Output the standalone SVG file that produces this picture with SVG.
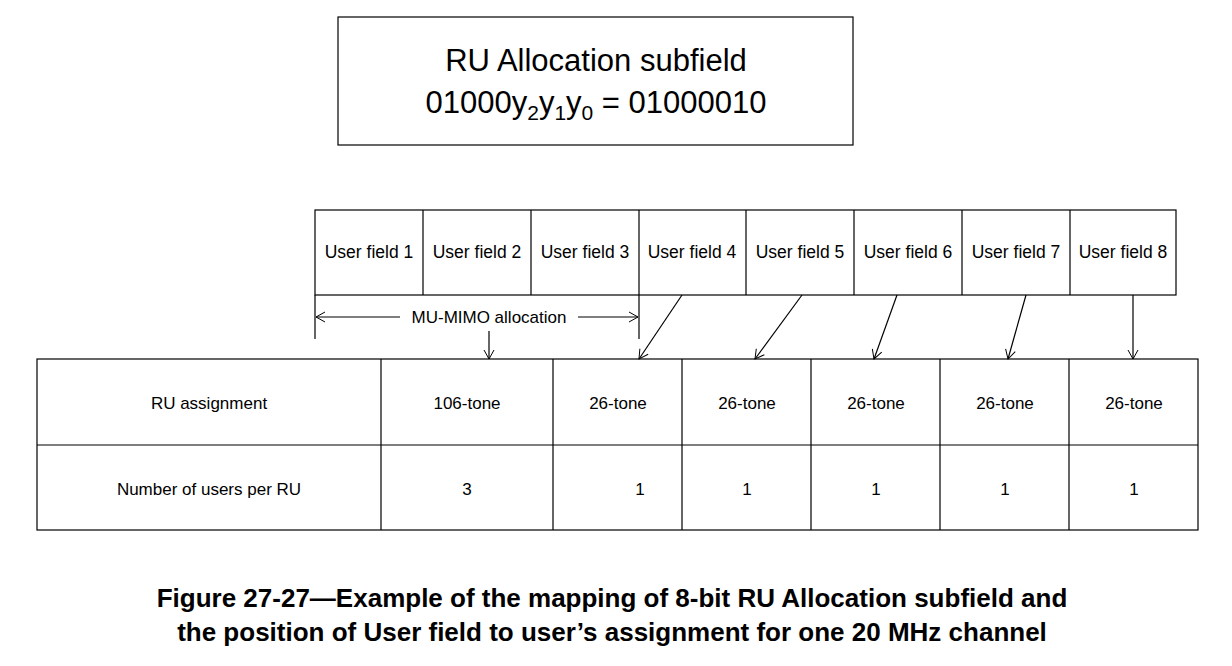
<svg xmlns="http://www.w3.org/2000/svg" width="1232" height="666" viewBox="0 0 1232 666">
<defs>
<marker id="ah" markerWidth="12" markerHeight="12" refX="10" refY="6" orient="auto" markerUnits="userSpaceOnUse"><path d="M1,1 L10,6 L1,11" fill="none" stroke="#000" stroke-width="1"/></marker>
</defs>
<style>
.b{fill:#fff;stroke:#000;stroke-width:1.2}
.l{stroke:#000;stroke-width:1.2;fill:none}
.t{font-family:"Liberation Sans",Arial,sans-serif;font-size:17px;text-anchor:middle;fill:#000}
.u{font-family:"Liberation Sans",Arial,sans-serif;font-size:17.5px;text-anchor:middle;fill:#000}
.h{font-family:"Liberation Sans",Arial,sans-serif;font-size:31px;text-anchor:middle;fill:#000}
.c{font-family:"Liberation Sans",Arial,sans-serif;font-size:26px;font-weight:bold;text-anchor:middle;fill:#000}
</style>
<rect width="1232" height="666" fill="#fff"/>
<g id="title"><rect class="b" x="338" y="17" width="515" height="128"/>
<text class="h" x="596" y="71">RU Allocation subfield</text>
<text class="h" x="596" y="113">01000y<tspan font-size="21" dy="7">2</tspan><tspan dy="-7">y</tspan><tspan font-size="21" dy="7">1</tspan><tspan dy="-7">y</tspan><tspan font-size="21" dy="7">0</tspan><tspan dy="-7"> = 01000010</tspan></text></g>
<g id="userfields">
<rect class="b" x="315" y="210" width="861" height="85"/>
<path class="l" d="M423,210V295M531,210V295M639,210V295M746,210V295M854,210V295M962,210V295M1070,210V295"/>
<text class="u" x="369" y="258">User field 1</text><text class="u" x="477" y="258">User field 2</text><text class="u" x="585" y="258">User field 3</text><text class="u" x="692" y="258">User field 4</text><text class="u" x="800" y="258">User field 5</text><text class="u" x="908" y="258">User field 6</text><text class="u" x="1016" y="258">User field 7</text><text class="u" x="1123" y="258">User field 8</text>
</g>
<g id="table">
<rect class="b" x="37" y="359" width="1161" height="171"/>
<path class="l" d="M37,445H1198M381,359V530M553,359V530M682,359V530M811,359V530M940,359V530M1069,359V530"/>
<text class="t" x="209" y="409">RU assignment</text><text class="t" x="467" y="409">106-tone</text><text class="t" x="618" y="409">26-tone</text><text class="t" x="747" y="409">26-tone</text><text class="t" x="876" y="409">26-tone</text><text class="t" x="1005" y="409">26-tone</text><text class="t" x="1134" y="409">26-tone</text>
<text class="t" x="209" y="495">Number of users per RU</text><text class="t" x="467" y="495">3</text><text class="t" x="640" y="495">1</text><text class="t" x="747" y="495">1</text><text class="t" x="876" y="495">1</text><text class="t" x="1005" y="495">1</text><text class="t" x="1134" y="495">1</text>
</g>
<g id="connectors">
<path class="l" d="M315,295V339M639,295V339"/>
<path class="l" d="M400,317H316" marker-end="url(#ah)"/>
<path class="l" d="M578,317H638" marker-end="url(#ah)"/>
<text class="t" x="489" y="323">MU-MIMO allocation</text>
<path class="l" d="M489,331V359" marker-end="url(#ah)"/>
<path class="l" d="M682,295L639,359" marker-end="url(#ah)"/>
<path class="l" d="M802,295L755,359" marker-end="url(#ah)"/>
<path class="l" d="M897,295L874,359" marker-end="url(#ah)"/>
<path class="l" d="M1026,295L1008,359" marker-end="url(#ah)"/>
<path class="l" d="M1133,295V359" marker-end="url(#ah)"/>
</g>
<text class="c" x="612" y="607">Figure 27-27—Example of the mapping of 8-bit RU Allocation subfield and</text>
<text class="c" x="612" y="641">the position of User field to user’s assignment for one 20 MHz channel</text>
</svg>
